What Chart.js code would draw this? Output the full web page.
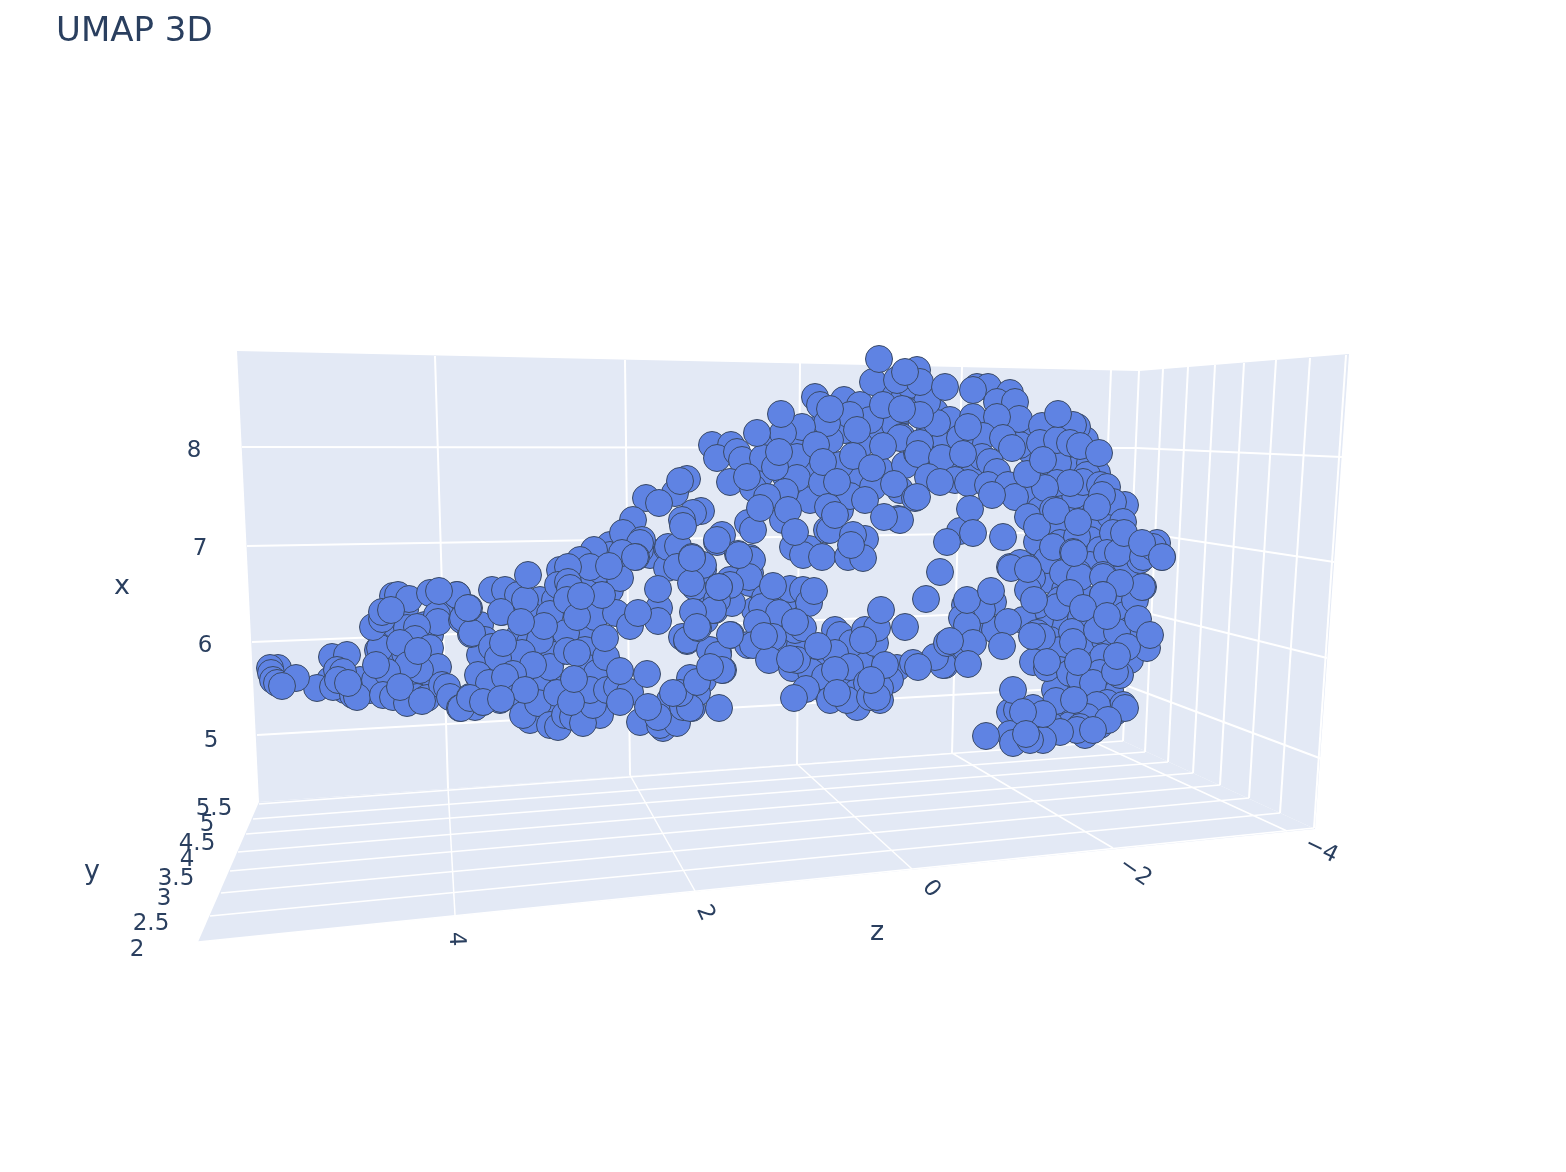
<!DOCTYPE html>
<html>
<head>
<meta charset="utf-8">
<title>UMAP 3D</title>
<script src="https://cdn.jsdelivr.net/npm/chart.js@4"></script>
<style>
  body { margin: 0; background: #fff; }
  #chart { display: block; }
</style>
</head>
<body>
<canvas id="chart" width="1566" height="1172"></canvas>
<script>
// the 3D scene is flat here: every pair is a point on the projected plane
// hiddenMarkers sit mostly behind the others, they only close up the dense areas
const hiddenMarkers = [
  [880,430],[860,445],[895,425],[930,430],[945,440],[880,470],[905,465],[930,460],[950,465],[860,475],[840,465],[900,490],
  [845,430],[815,430],[800,445],[830,440],[770,450],[760,475],[810,470],[785,475],[840,510],[810,500],[890,395],[905,395],
  [925,395],[910,385],[935,412],[950,420],[1000,420],[1030,450],[1025,430],[975,470],[1030,495],[1040,470],[1020,445],
  [1060,430],[1085,440],[1065,455],[1075,470],[1050,500],[1065,500],[1090,500],[1075,495],[1105,505],[1090,520],[1100,530],
  [1040,510],[1060,525],[1090,540],[1110,515],[1125,505],[1100,550],[1130,545],
  [1050,580],[1065,590],[1090,600],[1120,600],[1125,615],[1060,620],[1095,615],[1050,640],[1060,650],[1090,645],[1105,640],[1130,630],
  [1060,670],[1110,690],[1095,665],[1085,690],[1075,690],[1130,660],[1055,690],[1090,700],[1040,620],[1120,675],[1135,600],[1125,570],[1090,565],[1060,600],
  [1065,715],[1075,710],[1095,715],[1115,712],[1085,735],[1070,725],[1100,725],[1115,710],[1050,725],[1035,725],[1010,712],
  [965,605],[985,625],[995,630],[960,645],
  [825,690],[845,685],[855,680],[870,670],[845,655],[860,660],[880,700],[815,660],[785,640],[800,645],[770,625],[785,600],[755,610],
  [540,600],[530,615],[555,600],[575,585],[595,585],[610,590],[550,640],[555,655],[590,635],[590,655],[540,680],[560,690],[580,695],
  [600,700],[545,705],[600,715],[610,675],[520,680],[500,660],[520,635],[480,625],[485,640],[480,655],
  [360,680],[370,690],[375,680],[395,680],[410,680],[425,685],[435,680],[395,660],[420,640],[390,640],[378,650],[395,625],[425,625],
  [455,610],[440,605],[405,610],[430,635],[330,680],[345,690],
  [650,715],[670,715],[680,695],[690,695],[705,590],[705,620],[665,555],[650,555],[610,545],[575,575],[585,575],[600,570],[610,555]
];

const backMarkers = [
  [278,668],[270,668],[271,673],[273,680],[277,683],[317,688],
  [332,657],[347,655],[337,670],[333,687],[343,672],[338,680],[353,695],[357,697],
  [380,648],[373,627],[382,619],[393,596],[398,595],[409,599],[382,612],
  [430,593],[457,595],[437,615],[438,622],[462,620],[471,634],
  [407,628],[417,627],[415,639],[405,653],[430,648],[400,643],[438,667],[420,670],[408,665],[387,672],
  [383,695],[393,697],[417,697],[407,703],[427,698],[442,685],[447,687],[450,697],[460,708],[470,697],[475,707],
  [483,702],[503,698],[490,685],[479,677],[500,700],[492,590],[502,612],[493,647],[498,672],
  [505,590],[518,595],[525,600],[457,595],[463,618],[472,633],[550,614],[492,647],[530,643],[540,640],[522,653],
  [498,658],[566,633],[550,667],[567,651],[585,650],[533,665],[513,674],[478,675],[489,683],[505,677],
  [588,668],[597,673],[606,657],[595,617],[616,613],[659,608],[630,626],
  [594,550],[580,560],[590,567],[625,548],[640,550],[620,578],[560,570],[568,567],[558,585],[568,582],[570,588],
  [602,595],[567,600],[577,617],[667,548],[677,565],[690,557],[692,573],[695,587],[685,558],[703,570],[667,568],
  [717,542],[720,598],[732,585],[715,610],[695,613],[732,603],[682,637],[687,641],[731,635],[748,645],[750,583],
  [713,652],[718,652],[723,670],[703,680],
  [670,700],[692,708],[697,693],[640,722],[663,728],[660,725],[677,723],[658,717],[683,707],
  [461,708],[470,698],[483,702],[518,697],[530,720],[523,715],[538,703],[550,725],[558,727],[557,693],
  [565,715],[573,717],[583,723],[593,705],[590,690],[607,690],[617,687],[630,692],
  [873,382],[897,380],[917,370],[815,397],[820,405],[844,400],[860,405],[870,420],[850,415],[827,423],[857,430],[883,405],
  [802,427],[783,433],[712,445],[731,445],[717,458],[737,452],[742,460],[797,457],[816,445],[853,456],[902,437],[917,453],
  [797,478],[763,458],[775,467],[730,482],[753,488],[785,492],[767,497],[783,520],[788,510],[748,523],[753,530],
  [822,483],[850,496],[873,487],[894,484],[865,500],[915,498],[898,519],[828,507],
  [793,547],[809,549],[803,555],[822,557],[827,530],[830,530],[865,539],[853,535],[848,557],[863,558],
  [687,479],[675,493],[646,498],[701,511],[693,513],[682,520],[633,520],[722,535],[750,558],[668,547],[678,546],[677,567],[703,565],
  [623,533],[642,540],[640,543],[622,553],[750,573],[730,580],
  [977,387],[988,387],[1010,393],[997,402],[1015,402],[1019,419],[973,417],[997,417],[983,436],[1003,438],[1012,448],
  [960,438],[968,427],[937,423],[927,402],[920,382],[905,410],[920,415],[900,438],[920,443],[918,454],[942,458],
  [982,457],[990,462],[997,472],[955,480],[928,477],[940,482],[968,483],[988,485],[1008,485],[1015,497],[992,495],[900,520],[960,531],
  [1042,426],[1077,427],[1073,425],[1058,463],[1040,443],[1057,440],[1070,443],[1090,463],[1097,473],[1087,475],[1083,482],
  [1100,485],[1107,487],[1113,502],[1102,495],[1097,507],[1057,483],[1070,483],[1045,488],
  [1028,517],[1053,510],[1123,522],[1113,533],[1037,542],[1037,527],[1060,543],[1077,537],[1157,543],[1140,560],
  [1117,553],[1107,553],[1103,575],[1078,573],[1047,560],[1027,567],[1010,567],[1020,563],[1063,573],[1143,587],
  [993,602],[982,610],[962,618],[967,625],[973,643],[945,665],
  [1011,568],[1032,578],[1028,590],[1038,605],[1057,607],[1023,620],[1037,633],[1042,637],[1033,662],[1047,668],
  [1053,547],[1080,577],[1103,577],[1070,593],[1103,595],[1081,618],[1072,632],[1073,642],[1097,630],[1117,632],
  [1147,648],[1142,587],[1120,583],[1118,553],[1143,557],[1162,557],[1153,547],
  [1103,657],[1127,647],[1100,673],[1070,673],[1080,678],[1093,683],[1115,672],
  [1056,701],[1107,703],[1123,705],[1125,708],[1097,705],[1087,717],[1108,720],[1080,727],[1077,730],[1093,730],[1060,732],
  [1017,710],[1033,708],[1010,734],[1013,743],[1043,740],[1030,740],
  [752,560],[749,577],[730,585],[691,583],[717,600],[713,610],[693,612],[687,640],[710,650],[718,655],[722,670],[690,678],[690,708],[680,693],
  [765,598],[762,607],[790,589],[803,590],[809,603],[779,613],[795,630],[803,628],[757,623],[773,637],[753,645],[769,660],[792,668],[811,672],[825,677],[797,660],
  [806,689],[830,700],[853,700],[857,692],[835,630],[840,635],[852,643],[875,643],[865,630],[877,628],
  [835,653],[850,667],[835,670],[897,668],[913,663],[943,665],[935,657],[947,643],[890,680],[880,688],[867,683],[857,707],[847,700],[870,697],[877,697]
];

const frontMarkers = [
  [296,678],[282,686],[348,683],[376,665],[391,610],[418,651],[439,591],[469,608],[400,687],[422,701],
  [528,575],[468,608],[501,612],[544,626],[503,643],[521,622],[577,653],[581,596],[609,566],[636,557],
  [605,638],[620,671],[647,674],[571,702],[525,690],[501,699],[620,702],[648,707],[673,693],[697,682],[710,667],[719,708],
  [658,589],[658,621],[638,613],[698,628],[719,587],[692,557],[738,554],[574,679],
  [879,359],[905,372],[830,409],[781,414],[757,433],[779,452],[823,462],[883,446],[902,409],[872,468],[837,482],[747,477],
  [760,508],[795,532],[835,515],[884,517],[851,545],[680,481],[659,503],[683,526],[717,540],[739,555],[635,557],[692,558],
  [973,390],[945,387],[917,497],[963,454],[1027,474],[970,509],[973,533],[947,542],[1003,537],[940,572],
  [1058,414],[1043,460],[1080,446],[1099,453],[1056,511],[1124,533],[1073,552],[1142,543],[1162,557],[1078,522],
  [986,736],[1013,690],[1074,553],[1028,569],[1034,600],[1103,595],[1138,619],[1150,635],[1117,656],[1078,662],
  [1032,636],[1047,662],[967,600],[991,591],[1008,622],[968,664],[1002,646],[950,641],[1043,714],[1023,712],[1074,700],[1026,734],[1083,608],[1107,616],
  [719,587],[697,627],[730,635],[773,586],[814,591],[795,622],[764,636],[818,646],[790,659],[794,698],[837,693],[863,640],
  [881,610],[905,627],[926,599],[885,665],[918,667],[871,680]
];

const backWallGrid = [
  [[242,447],[1136,448]], [[247,546],[1130,531]], [[252,642],[1127,608]], [[257,735],[1125,685]],
  [[435,356],[448,788]], [[625,360],[630,775]], [[800,363],[797,764]], [[962,367],[952,753]], [[1111,370],[1096,743]]
];
const sideWallGrid = [
  [[1136,448],[1342,457]], [[1130,531],[1334,562]], [[1127,608],[1327,658]], [[1125,685],[1322,759]],
  [[1139,371],[1123,741]], [[1163,369],[1145,752]], [[1188,367],[1168,762]], [[1215,365],[1193,773]],
  [[1244,363],[1220,785]], [[1276,360],[1249,798]], [[1310,358],[1280,813]], [[1346,355],[1314,828]]
];
const floorGrid = [
  [[259,804],[1123,741]], [[253,819],[1145,752]], [[246,834],[1168,762]], [[238,852],[1193,773]],
  [[230,871],[1220,785]], [[221,893],[1249,798]], [[210,916],[1280,813]], [[198,942],[1314,828]],
  [[448,788],[455,915]], [[630,775],[695,891]], [[797,764],[912,869]], [[952,753],[1113,848]], [[1096,743],[1287,831]]
];
const panes = [
  [[237,351],[1139,371],[1123,741],[259,802]],
  [[1139,371],[1349,354],[1315,829],[1123,741]],
  [[259,802],[1123,741],[1315,829],[198,942]]
];

const xTickLabels = ["8", "7", "6", "5"];
const xTickSpots = [[194,451],[200,549],[205,646],[211,741]];
const yTickLabels = ["5.5", "5", "4.5", "4", "3.5", "3", "2.5", "2"];
const yTickSpots = [[214,809],[207,825],[197,844],[187,860],[176,879],[164,899],[151,924],[137,950]];
const zTickLabels = ["4", "2", "0", "\u22122", "\u22124"];
const zTickSpots = [[456,939],[705,913],[931,889],[1135,872],[1321,850]];
const zTickTurn = [88, 65, 50, 35, 26];
const axisTitles = [["x",122,587],["y",92,872],["z",877,933]];

const inkColor = "#2a3f5f";
const tickFont = "23px 'DejaVu Sans'";

const toLine = (seg, width) => ({
  type: "line",
  data: seg.map((p) => ({ x: p[0], y: p[1] })),
  borderColor: "#ffffff",
  borderWidth: width,
  pointRadius: 0,
  fill: false,
  tension: 0,
});

const scenePlugin = {
  id: "scene",
  beforeDatasetsDraw(chart) {
    const ctx = chart.ctx;
    const sx = chart.scales.x;
    const sy = chart.scales.y;
    ctx.save();
    ctx.fillStyle = "#e3e9f5";
    panes.forEach((pane) => {
      ctx.beginPath();
      pane.forEach((p, i) => {
        const px = sx.getPixelForValue(p[0]);
        const py = sy.getPixelForValue(p[1]);
        if (i == 0) ctx.moveTo(px, py);
        else ctx.lineTo(px, py);
      });
      ctx.closePath();
      ctx.fill();
    });
    ctx.restore();
  },
  afterDraw(chart) {
    const ctx = chart.ctx;
    const sx = chart.scales.x;
    const sy = chart.scales.y;
    const put = (text, x, y, font, turn) => {
      ctx.save();
      ctx.translate(sx.getPixelForValue(x), sy.getPixelForValue(y));
      ctx.rotate((turn * Math.PI) / 180);
      ctx.font = font;
      ctx.fillStyle = inkColor;
      ctx.textAlign = "center";
      ctx.textBaseline = "middle";
      ctx.fillText(text, 0, 0);
      ctx.restore();
    };
    xTickLabels.forEach((t, i) => put(t, xTickSpots[i][0], xTickSpots[i][1], tickFont, 0));
    yTickLabels.forEach((t, i) => put(t, yTickSpots[i][0], yTickSpots[i][1], tickFont, 0));
    zTickLabels.forEach((t, i) => put(t, zTickSpots[i][0], zTickSpots[i][1], tickFont, zTickTurn[i]));
    axisTitles.forEach((t) => put(t[0], t[1], t[2], "27px 'DejaVu Sans'", 0));
    ctx.save();
    ctx.font = "34px 'DejaVu Sans'";
    ctx.fillStyle = inkColor;
    ctx.textAlign = "left";
    ctx.textBaseline = "alphabetic";
    ctx.fillText("UMAP 3D", sx.getPixelForValue(56), sy.getPixelForValue(41));
    ctx.restore();
  },
};

const myChart = new Chart(document.querySelector("#chart"), {
  type: "scatter",
  data: {
    datasets: [
      {
        label: "UMAP 3D",
        data: hiddenMarkers.concat(backMarkers, frontMarkers).map((p) => ({ x: p[0], y: p[1] })),
        backgroundColor: "#5f83e3",
        borderColor: "#3a4a66",
        borderWidth: 1,
        pointRadius: 13.5,
      },
      ...backWallGrid.map((s) => toLine(s, 2)),
      ...sideWallGrid.map((s) => toLine(s, 2)),
      ...floorGrid.map((s) => toLine(s, 1.5)),
    ],
  },
  options: {
    responsive: false,
    animation: false,
    layout: { padding: 0, autoPadding: false },
    plugins: { legend: { display: false }, tooltip: { enabled: false } },
    scales: {
      x: { type: "linear", display: false, min: 0, max: 1566 },
      y: { type: "linear", display: false, min: 0, max: 1172, reverse: true },
    },
  },
  plugins: [scenePlugin],
});
</script>
</body>
</html>
